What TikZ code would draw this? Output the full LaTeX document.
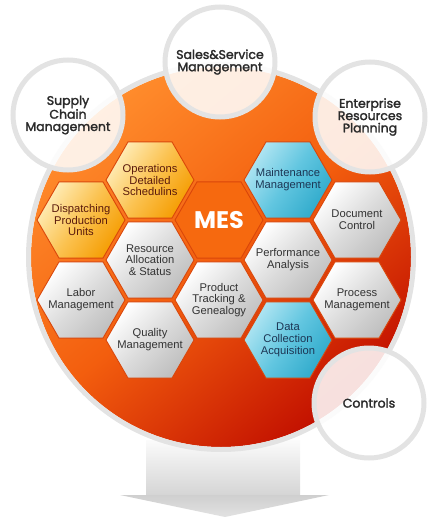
\documentclass[tikz,border=0pt]{standalone}
\usepackage{fontspec}
\setmainfont{Liberation Sans}
\newfontfamily\geo[FakeBold=2]{Poppins}
\newfontfamily\geob{Poppins}
\usetikzlibrary{shapes.geometric}
\definecolor{ringgray}{HTML}{E3E3E3}
\definecolor{orlight}{HTML}{FF8C2C}
\definecolor{ormid}{HTML}{F35E0E}
\definecolor{ordark}{HTML}{C21000}
\definecolor{hexline}{HTML}{D9460A}
\definecolor{hexgray}{HTML}{BEBEBE}
\definecolor{hexgraymid}{HTML}{DCDCDC}
\definecolor{ylight}{HTML}{FFEDB8}
\definecolor{ymid}{HTML}{FBC250}
\definecolor{ydark}{HTML}{F59C00}
\definecolor{blight}{HTML}{B2E6F3}
\definecolor{bmid}{HTML}{62C6E0}
\definecolor{bdark}{HTML}{2FAACB}
\definecolor{mesfill}{HTML}{F6690F}
\definecolor{txgray}{HTML}{333333}
\definecolor{txbrown}{HTML}{5A1A0C}
\definecolor{txblue}{HTML}{1D3654}
\definecolor{txcircle}{HTML}{2A2A2A}
\definecolor{arrtop}{HTML}{FBFBFB}
\definecolor{arrbot}{HTML}{D4D4D4}
\definecolor{headtop}{HTML}{CFCFCF}
\definecolor{headbot}{HTML}{E2E2E2}
\begin{document}
\begin{tikzpicture}[x=1pt,y=1pt,
  hexbase/.style={regular polygon, regular polygon sides=6, minimum size=88pt,
    inner sep=0pt, draw=hexline, line width=0.9pt},
  grayhex/.style={hexbase, top color=white, bottom color=hexgray, middle color=hexgraymid, shading angle=45},
  yellowhex/.style={hexbase, top color=ylight, bottom color=ydark, middle color=ymid, shading angle=55},
  bluehex/.style={hexbase, top color=blight, bottom color=bdark, middle color=bmid, shading angle=55},
  meshex/.style={hexbase, fill=mesfill},
  hextext/.style={align=center, font=\fontsize{11.2}{11.8}\selectfont, inner sep=0pt},
  graytext/.style={hextext, text=txgray},
  browntext/.style={hextext, text=txbrown},
  bluetext/.style={hextext, text=txblue},
  sat/.style={circle, minimum size=110pt, inner sep=0pt, draw=ringgray, line width=5pt,
    fill=white, fill opacity=0.87, text opacity=1, text=txcircle, align=center,
    font=\geo\fontsize{12.5}{12.3}\selectfont}
]
\useasboundingbox (0,0) rectangle (442,-524);

% bottom arrow
\shade[top color=arrtop, bottom color=arrbot] (146,-440) rectangle (300,-496);
\shade[top color=headtop, bottom color=headbot] (120,-495) -- (329,-495) -- (225,-517) -- cycle;

% big circle
\shade[shading=axis, top color=orlight, bottom color=ordark, middle color=ormid, shading angle=40]
  (221,-257) circle[radius=190pt];
\draw[ringgray, line width=5pt] (221,-257) circle[radius=192.5pt];

% hexagons
\node[yellowhex] (ops) at (150,-180) {};
\node[yellowhex] (disp) at (81,-220) {};
\node[grayhex] (res) at (150,-260) {};
\node[grayhex] (lab) at (81,-300) {};
\node[grayhex] (qual) at (150,-340) {};
\node[grayhex] (prod) at (219,-300) {};
\node[meshex] (mes) at (219,-220) {};
\node[bluehex] (maint) at (288,-180) {};
\node[grayhex] (doc) at (357,-220) {};
\node[grayhex] (perf) at (288,-260) {};
\node[grayhex] (proc) at (357,-300) {};
\node[bluehex] (data) at (288,-340) {};

\node[browntext] (opsT) at (ops) {Operations\\Detailed\\Schedulins};
\node[browntext] (dispT) at (disp) {Dispatching\\Production\\Units};
\node[graytext] (resT) at (res) {Resource\\Allocation\\\& Status};
\node[graytext] (labT) at (lab) {Labor\\Management};
\node[graytext] (qualT) at (qual) {Quality\\Management};
\node[graytext] (prodT) at (prod) {Product\\Tracking \&\\Genealogy};
\node[text=white, inner sep=0pt, font=\geob\bfseries\fontsize{24}{25}\selectfont] (mesT) at (mes) {MES};
\node[bluetext] (maintT) at (maint) {Maintenance\\Management};
\node[graytext] (docT) at (doc) {Document\\Control};
\node[graytext] (perfT) at (perf) {Performance\\Analysis};
\node[graytext] (procT) at (proc) {Process\\Management};
\node[bluetext] (dataT) at (data) {Data\\Collection\\Acquisition};

% satellite circles
\node[sat] (scm) at (68,-115) {Supply\\Chain\\Management};
\node[sat] (ssm) at (220,-62) {Sales\&Service\\Management};
\node[sat] (erp) at (370,-117) {Enterprise\\Resources\\Planning};
\node[sat] (ctl) at (369,-403) {Controls};
\end{tikzpicture}
\end{document}
